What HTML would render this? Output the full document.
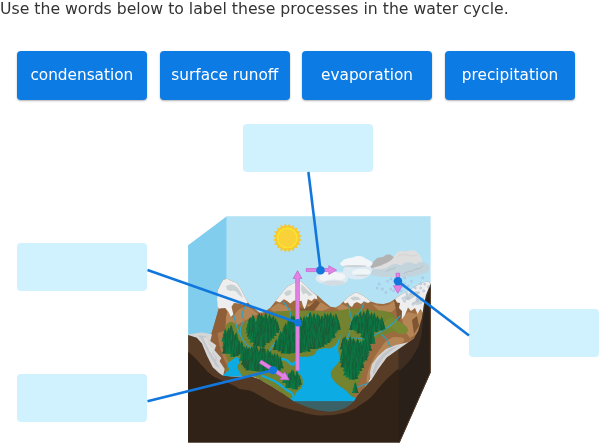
<!DOCTYPE html>
<html><head><meta charset="utf-8">
<style>
html,body{margin:0;padding:0;background:#fff;}
body{width:600px;height:444px;overflow:hidden;position:relative;font-family:"DejaVu Sans","Liberation Sans",sans-serif;}
.q{will-change:transform;position:absolute;left:0px;top:-1px;font-size:15.7px;line-height:19px;color:#333;white-space:nowrap;}
.btn{will-change:transform;position:absolute;top:51.2px;width:130px;height:48.8px;background:#0c7be3;border-radius:4px;color:#fff;font-size:15.3px;line-height:48px;text-align:center;box-shadow:0 1px 2px rgba(0,0,0,.3);}
.drop{position:absolute;width:130px;height:48px;background:#d0f1fe;border-radius:4px;}
svg{position:absolute;left:0;top:0;}
</style></head><body>
<div class="q">Use the words below to label these processes in the water cycle.</div>
<div class="btn" style="left:17.3px;width:129.7px">condensation</div>
<div class="btn" style="left:160px;width:129.7px">surface runoff</div>
<div class="btn" style="left:302px">evaporation</div>
<div class="btn" style="left:445px">precipitation</div>
<div class="drop" style="left:243px;top:124px"></div>
<div class="drop" style="left:17px;top:243px"></div>
<div class="drop" style="left:17px;top:374px"></div>
<div class="drop" style="left:469px;top:308.5px;height:48.4px"></div>
<svg width="600" height="444" viewBox="0 0 600 444">
<path d="M188.1,245.2 L226.8,216.2 L226.8,345.0 L188.1,345.0Z" fill="#80cdee" />
<rect x="226.8" y="216.2" width="203.8" height="125" fill="#b3e2f5"/>
<path d="M301.9,240.3 L298.5,241.6 L300.5,244.7 L296.8,244.9 L297.8,248.5 L294.2,247.5 L294.0,251.2 L290.9,249.2 L289.6,252.6 L287.3,249.8 L285.0,252.6 L283.7,249.2 L280.6,251.2 L280.4,247.5 L276.8,248.5 L277.8,244.9 L274.1,244.7 L276.1,241.6 L272.7,240.3 L275.5,238.0 L272.7,235.7 L276.1,234.4 L274.1,231.3 L277.8,231.1 L276.8,227.5 L280.4,228.5 L280.6,224.8 L283.7,226.8 L285.0,223.4 L287.3,226.2 L289.6,223.4 L290.9,226.8 L294.0,224.8 L294.2,228.5 L297.8,227.5 L296.8,231.1 L300.5,231.3 L298.5,234.4 L301.9,235.7 L299.1,238.0Z" fill="#f7c730" />
<circle cx="287.3" cy="238.0" r="10.5" fill="#fce72a"/>
<circle cx="287.3" cy="238.0" r="9.2" fill="#f8d238"/>
<path d="M367.3,267.8 C365.2,266.4 369.6,266.0 372.0,263.5 C374.5,261.0 373.4,261.3 375.5,259.5 C377.6,257.7 376.8,258.4 379.1,257.6 C381.3,256.8 380.7,257.8 383.1,256.8 C385.6,255.9 384.5,254.8 387.2,254.5 C390.0,254.2 390.4,254.4 392.2,255.9 C393.9,257.4 394.2,256.8 393.1,259.4 C392.0,262.0 392.6,262.0 388.4,264.7 C384.2,267.3 385.4,267.2 379.1,268.2 C372.7,269.1 369.4,269.2 367.3,267.8Z" fill="#b2b2b2" />
<path d="M372.0,269.0 C371.7,267.3 376.6,267.5 382.6,264.7 C388.5,261.8 388.0,262.6 391.9,259.4 C395.9,256.2 393.2,256.7 395.7,254.1 C398.1,251.6 397.2,251.8 400.1,251.0 C403.0,250.2 401.9,251.6 405.4,251.4 C408.9,251.2 408.3,250.0 411.8,250.3 C415.4,250.5 414.6,250.7 417.1,252.4 C419.6,254.1 418.5,253.4 420.0,255.9 C421.5,258.3 422.1,257.8 422.1,260.6 C422.1,263.4 423.1,263.0 420.0,265.2 C416.9,267.5 417.8,266.8 411.8,268.2 C405.9,269.5 408.6,269.1 400.1,269.7 C391.7,270.3 392.2,270.4 383.7,270.2 C375.3,270.0 372.4,270.6 372.0,269.0Z" fill="#dedede" />
<path d="M397.2,257.6 C398.2,256.9 397.2,256.3 400.1,255.3 C403.1,254.3 402.1,254.5 406.0,254.7 C409.9,254.9 408.3,255.7 411.8,255.9 C415.4,256.1 415.0,255.5 416.5,255.3" fill="none" stroke="#cfcfcf" stroke-width="0.8" stroke-linecap="round" />
<path d="M370.3,271.7 C371.1,270.1 371.4,270.2 374.4,269.3 C377.4,268.5 376.7,269.3 380.2,269.0 C383.7,268.6 383.1,269.1 386.1,268.2 C389.1,267.2 387.3,267.1 390.2,265.8 C393.1,264.6 392.3,264.3 395.7,264.1 C399.0,263.9 398.6,265.5 401.3,265.2 C404.0,265.0 402.2,264.0 404.8,263.1 C407.4,262.3 406.9,262.1 410.1,262.3 C413.2,262.5 412.0,263.9 415.4,263.8 C418.7,263.8 417.7,262.0 421.2,262.1 C424.7,262.2 424.6,262.4 427.1,264.1 C429.5,265.7 429.2,265.3 429.4,267.6 C429.6,269.9 430.5,269.7 427.6,271.7 C424.8,273.7 424.8,273.0 420.0,274.4 C415.3,275.8 417.8,275.5 411.8,276.4 C405.9,277.2 407.2,277.0 400.1,277.2 C393.1,277.4 395.1,277.2 388.4,277.0 C381.7,276.7 383.0,277.1 377.9,276.4 C372.8,275.7 373.7,276.0 371.4,274.6 C369.2,273.2 369.4,273.3 370.3,271.7Z" fill="#c3d4dd" />
<path d="M386.1,271.7 C387.4,270.9 387.8,270.2 390.2,269.3 C392.5,268.4 391.3,269.8 393.1,269.0 C394.9,268.2 394.8,267.7 395.7,267.0" fill="none" stroke="#b0b4b6" stroke-width="0.7" stroke-linecap="round" />
<path d="M403.6,273.7 C405.2,273.0 405.6,272.5 408.3,271.7 C411.1,270.8 409.5,271.9 411.8,271.1 C414.2,270.3 412.6,270.3 415.4,269.3 C418.1,268.4 417.7,269.3 420.0,268.2 C422.4,267.0 421.6,266.6 422.4,265.8" fill="none" stroke="#b0b4b6" stroke-width="0.7" stroke-linecap="round" />
<g fill="#dfeaf0"><ellipse cx="333" cy="279" rx="15" ry="6.5"/><ellipse cx="340" cy="277" rx="8.5" ry="5.5"/><ellipse cx="322" cy="278.5" rx="6.5" ry="4.5"/></g>
<g fill="#d2dce2"><ellipse cx="334" cy="283" rx="11" ry="2.6"/></g>
<g fill="#f1f5f8"><ellipse cx="330" cy="275.5" rx="10" ry="4.2"/><ellipse cx="339" cy="276.5" rx="6.5" ry="3.6"/><ellipse cx="324" cy="278" rx="5" ry="3"/></g>
<g fill="#dcebf3"><ellipse cx="357" cy="271.5" rx="14" ry="8"/><ellipse cx="365" cy="270" rx="7" ry="6"/></g>
<g fill="#f2f6f9"><ellipse cx="356" cy="262" rx="14" ry="4.6"/><ellipse cx="358.5" cy="259.2" rx="7" ry="3.2"/><ellipse cx="346.5" cy="263.8" rx="6.5" ry="2.6"/><ellipse cx="366" cy="263.5" rx="6.5" ry="3.6"/></g>
<g fill="#ccd3d7"><ellipse cx="355" cy="266.2" rx="12" ry="1.2"/></g>
<g fill="#f0f5f8"><ellipse cx="362" cy="272" rx="9" ry="3.2"/><ellipse cx="356" cy="272.5" rx="4" ry="2"/></g>
<g fill="#d0d7db"><ellipse cx="362" cy="275.4" rx="7" ry="0.9"/></g>
<path d="M208.0,345.0 L212.6,330.0 L216.0,318.0 L218.5,309.0 L217.0,299.0 L217.7,290.4 L220.8,284.1 L223.3,279.7 L227.1,278.8 L232.8,281.6 L236.6,282.8 L240.4,287.9 L243.5,294.2 L247.9,302.4 L253.0,307.5 L259.3,312.6 L263.0,312.6 L267.0,310.0 L270.0,308.0 L275.7,301.1 L278.9,296.7 L283.9,290.4 L287.7,286.6 L294.0,283.0 L300.9,280.9 L306.6,286.6 L311.7,291.7 L318.0,296.0 L324.3,301.7 L330.6,306.8 L335.6,307.4 L340.0,304.9 L343.3,301.5 L349.0,296.5 L355.8,292.3 L363.3,295.7 L370.8,301.5 L377.0,303.5 L383.3,304.0 L390.0,302.3 L395.0,299.0 L400.8,294.8 L408.3,290.7 L415.0,286.5 L423.3,282.3 L428.3,281.5 L430.6,283.5 L430.6,350.0 L208.0,350.0Z" fill="#9c6b3f" />
<path d="M208.0,334.0 L222.0,334.0 L232.0,350.0 L236.0,372.0 L226.0,378.0 L216.0,372.0 L206.0,350.0Z" fill="#9c6b3f" />
<path d="M225.9,308.3 L228.4,311.8 L231.0,317.0 L235.0,320.0 L236.5,330.0 L233.0,340.0 L223.0,345.0 L225.2,330.0 L225.9,318.1Z" fill="#b58555" />
<path d="M232.0,318.0 L238.0,310.0 L246.0,306.0 L252.0,309.0 L258.0,314.0 L250.0,318.0 L242.0,322.0 L236.0,326.0Z" fill="#b58555" />
<path d="M270.0,309.0 L278.0,303.0 L286.0,306.0 L292.0,310.0 L284.0,312.0 L275.0,313.0Z" fill="#b58555" />
<path d="M306.0,305.0 L314.0,302.0 L322.0,303.0 L330.0,308.0 L322.0,311.0 L312.0,310.0Z" fill="#b58555" />
<path d="M336.0,308.0 L342.0,304.0 L348.0,307.0 L350.0,312.0 L342.0,312.0Z" fill="#b58555" />
<path d="M372.0,304.0 L380.0,306.0 L388.0,305.0 L394.0,301.0 L398.0,306.0 L392.0,312.0 L380.0,312.0Z" fill="#b58555" />
<path d="M402.0,318.0 L408.0,312.0 L416.0,314.0 L422.0,310.0 L424.0,318.0 L419.0,332.0 L410.0,338.0 L404.0,330.0Z" fill="#b58555" />
<path d="M218.9,308.7 L225.9,308.3 L227.1,311.8 L225.9,318.1 L225.2,330.0 L223.0,345.0 L208.0,345.0 L212.6,330.0Z" fill="#8d5e38" />
<path d="M296.0,306.0 L304.0,309.0 L310.0,306.0 L316.0,300.0 L320.0,303.0 L314.0,311.0 L300.0,312.0Z" fill="#7f5532" />
<path d="M394.0,300.0 L400.0,296.0 L404.0,304.0 L402.0,316.0 L398.0,322.0 L396.0,310.0Z" fill="#7f5532" />
<path d="M412.0,320.0 L417.0,316.0 L419.0,326.0 L414.0,334.0Z" fill="#7f5532" />
<path d="M223.3,279.7 L227.1,278.8 L232.8,281.6 L236.6,282.8 L240.4,287.9 L243.5,294.2 L247.9,302.4 L244.1,304.9 L239.0,303.5 L234.0,303.0 L231.5,306.8 L233.4,314.4 L230.9,316.9 L228.4,311.8 L225.2,308.0 L221.0,308.3 L218.9,308.7 L217.7,306.8 L217.0,299.2 L217.7,290.4 L220.8,284.1Z" fill="#eeeeee" />
<path d="M226.0,286.0 L230.0,284.5 L234.0,285.0 L238.0,288.0 L241.0,293.0 L243.0,298.0 L239.0,295.0 L236.0,291.5 L233.0,290.5 L230.0,291.0 L227.0,289.5Z" fill="#c9d1d3" />
<path d="M300.9,280.9 L306.6,286.6 L311.7,291.7 L316.7,295.4 L317.3,299.2 L314.2,298.6 L311.7,301.1 L307.9,299.2 L306.6,304.3 L304.7,309.3 L302.8,305.5 L301.6,301.1 L294.0,300.5 L290.2,303.6 L287.1,301.1 L283.9,299.2 L280.1,302.4 L275.7,301.1 L278.9,296.7 L283.9,290.4 L287.7,286.6 L294.0,283.0Z" fill="#eeeeee" />
<path d="M301.5,284.0 L305.0,287.5 L309.0,291.5 L313.0,295.0 L309.0,296.0 L306.0,293.0 L303.0,294.5 L301.0,290.0Z" fill="#c9d1d3" />
<path d="M284.0,293.0 L288.0,290.0 L292.0,291.0 L290.0,295.0 L286.0,296.0Z" fill="#c9d1d3" />
<path d="M355.8,292.3 L363.3,295.7 L370.8,301.5 L368.0,303.0 L364.0,301.5 L361.0,304.0 L357.0,302.0 L354.0,303.5 L352.0,307.0 L349.5,305.5 L348.0,302.5 L345.0,303.5 L343.3,301.5 L349.0,296.5Z" fill="#eeeeee" />
<path d="M350.0,298.0 L354.0,296.5 L358.0,297.0 L361.0,299.5 L357.0,300.0 L353.0,300.5Z" fill="#c9d1d3" />
<path d="M395.0,299.0 L400.8,294.8 L408.3,290.7 L415.0,286.5 L423.3,282.3 L428.3,281.5 L430.6,283.5 L428.3,295.7 L425.8,307.3 L423.0,313.0 L420.5,309.0 L417.5,314.0 L415.0,308.0 L411.0,311.0 L408.0,307.5 L405.0,315.0 L401.7,319.5 L402.0,311.0 L399.0,308.0 L400.0,303.0 L397.0,302.5Z" fill="#eeeeee" />
<path d="M404.0,296.0 L410.0,294.0 L416.0,291.0 L420.0,292.0 L414.0,297.0 L409.0,300.0 L405.0,300.0Z" fill="#c9d1d3" />
<path d="M412.0,303.0 L418.0,299.0 L424.0,297.0 L422.0,304.0 L417.0,305.0Z" fill="#c9d1d3" />
<path d="M262.0,316.0 C265.2,314.7 264.5,314.2 268.0,313.0 C271.5,311.8 270.5,312.0 275.0,311.5 C279.5,311.0 279.4,311.3 285.0,311.0 C290.6,310.7 290.4,310.6 296.0,310.5 C301.6,310.4 300.7,310.4 306.0,310.5 C311.3,310.6 310.7,310.7 316.0,311.0 C321.3,311.3 320.7,311.5 326.0,311.5 C331.3,311.5 330.9,311.5 336.0,311.0 C341.1,310.5 340.2,310.2 345.0,309.5 C349.8,308.8 348.9,308.6 354.0,308.5 C359.1,308.4 358.7,308.5 364.0,309.0 C369.3,309.5 368.7,310.0 374.0,310.5 C379.3,311.0 379.2,310.1 384.0,311.0 C388.8,311.9 388.3,311.1 392.0,314.0 C395.7,316.9 394.8,316.9 398.0,322.0 C401.2,327.1 403.5,327.7 404.0,333.0 C404.5,338.3 404.3,336.9 400.0,342.0 C395.7,347.1 393.9,346.1 388.0,352.0 C382.1,357.9 382.8,357.1 378.0,364.0 C373.2,370.9 374.3,371.1 370.0,378.0 C365.7,384.9 366.3,383.6 362.0,390.0 C357.7,396.4 372.7,398.8 354.0,402.0 C335.3,405.2 311.7,404.7 292.0,402.0 C272.3,399.3 287.2,397.2 280.0,392.0 C272.8,386.8 272.3,386.5 265.0,382.4 C257.7,378.3 259.2,378.2 252.5,376.5 C245.8,374.8 246.5,377.2 240.0,376.0 C233.5,374.8 232.0,376.3 228.0,372.0 C224.0,367.7 226.6,367.2 225.0,360.0 C223.4,352.8 222.3,352.5 222.0,345.0 C221.7,337.5 221.9,338.1 224.0,332.0 C226.1,325.9 225.7,323.6 230.0,322.0 C234.3,320.4 235.2,326.5 240.0,326.0 C244.8,325.5 243.7,322.1 248.0,320.0 C252.3,317.9 252.3,319.1 256.0,318.0 C259.7,316.9 258.8,317.3 262.0,316.0Z" fill="#73832f" />
<path d="M373.0,341.0 C377.5,337.0 378.3,337.4 385.0,335.0 C391.7,332.6 391.6,331.2 398.0,332.0 C404.4,332.8 408.5,334.5 409.0,338.0 C409.5,341.5 405.1,341.8 400.0,345.0 C394.9,348.2 394.8,346.8 390.0,350.0 C385.2,353.2 386.0,352.2 382.0,357.0 C378.0,361.8 378.2,362.1 375.0,368.0 C371.8,373.9 372.9,373.7 370.0,379.0 C367.1,384.3 367.5,383.2 364.0,388.0 C360.5,392.8 359.7,395.9 357.0,397.0 C354.3,398.1 353.7,395.5 354.0,392.0 C354.3,388.5 355.9,388.8 358.0,384.0 C360.1,379.2 360.1,379.9 362.0,374.0 C363.9,368.1 363.4,368.4 365.0,362.0 C366.6,355.6 365.9,355.6 368.0,350.0 C370.1,344.4 368.5,345.0 373.0,341.0Z" fill="#9c6b3f" />
<path d="M388.0,340.0 C392.8,336.8 393.7,336.7 398.0,337.0 C402.3,337.3 405.1,338.3 404.0,341.0 C402.9,343.7 399.3,343.5 394.0,347.0 C388.7,350.5 388.5,349.5 384.0,354.0 C379.5,358.5 380.5,358.1 377.0,364.0 C373.5,369.9 373.7,370.9 371.0,376.0 C368.3,381.1 367.8,384.1 367.0,383.0 C366.2,381.9 366.4,378.1 368.0,372.0 C369.6,365.9 369.8,366.1 373.0,360.0 C376.2,353.9 376.0,354.3 380.0,349.0 C384.0,343.7 383.2,343.2 388.0,340.0Z" fill="#b58555" />
<path d="M390.0,318.0 C394.3,316.9 395.2,318.8 400.0,322.0 C404.8,325.2 408.0,326.8 408.0,330.0 C408.0,333.2 404.3,334.5 400.0,334.0 C395.7,333.5 396.3,330.1 392.0,328.0 C387.7,325.9 384.5,328.7 384.0,326.0 C383.5,323.3 385.7,319.1 390.0,318.0Z" fill="#7a8a33" />
<path d="M210.0,334.0 L224.0,331.0 L222.5,343.0 L225.0,353.0 L228.5,362.0 L226.5,368.0 L224.0,375.0 L219.0,364.0 L214.0,352.0 L209.0,342.0Z" fill="#8f6039" />
<path d="M217.5,333.0 L224.0,331.0 L222.5,343.0 L225.0,353.0 L228.5,362.0 L227.0,365.0 L223.0,357.0 L219.5,346.0Z" fill="#a9794b" />
<path d="M340.5,336.0 C340.3,337.8 339.2,340.8 338.7,344.3 C338.2,347.8 338.0,347.9 338.3,351.0 C338.6,354.1 340.2,354.8 340.0,357.7 C339.8,360.6 339.2,360.8 337.5,363.5 C335.8,366.2 334.1,366.8 332.5,369.3 C330.9,371.8 330.6,371.8 330.8,374.3 C331.0,376.8 331.6,377.5 333.3,380.0 C335.1,382.5 335.6,382.7 338.3,385.0 C341.0,387.3 342.3,387.7 345.0,390.0 C347.7,392.3 347.9,392.3 350.0,395.0 C352.1,397.7 366.9,400.0 353.8,401.5 C340.7,403.0 307.8,402.8 294.0,401.5 C280.2,400.2 293.8,398.3 294.5,396.0 C295.2,393.7 295.2,394.0 297.0,391.8 C298.8,389.6 300.8,389.7 302.0,386.5 C303.2,383.3 303.1,381.3 302.2,378.0 C301.3,374.7 299.6,375.3 298.0,372.5 C296.4,369.7 297.1,367.6 295.5,366.0 C293.9,364.4 293.0,366.4 291.0,365.5 C289.0,364.6 288.8,363.2 287.0,362.0 C285.2,360.8 285.4,360.7 283.3,360.5 C281.2,360.3 279.2,361.5 278.0,361.0 C276.8,360.5 276.8,359.2 278.0,358.5 C279.2,357.8 281.1,357.8 283.3,358.0 C285.5,358.2 285.7,358.4 287.5,359.5 C289.3,360.6 289.4,362.0 291.0,362.5 C292.6,363.0 293.1,362.7 294.5,361.5 C295.9,360.3 295.7,358.6 297.0,357.5 C298.3,356.4 298.1,357.0 300.0,356.8 C301.9,356.6 301.9,357.2 305.0,356.8 C308.1,356.4 310.4,356.7 313.3,355.2 C316.2,353.7 315.2,351.8 317.5,350.2 C319.8,348.6 320.0,349.1 323.3,348.5 C326.6,347.9 328.5,349.1 331.7,347.7 C334.9,346.3 335.2,345.3 337.0,342.7 C338.8,340.1 338.7,338.1 339.5,336.5 C340.3,334.9 340.7,334.2 340.5,336.0Z" fill="#0cabe4" />
<path d="M227.2,364.5 C227.9,362.3 229.6,361.8 232.0,360.0 C234.4,358.2 235.6,356.4 237.3,357.0 C239.0,357.6 239.3,360.1 239.3,362.5 C239.3,364.9 236.9,364.5 237.3,367.2 C237.7,369.9 240.2,371.9 240.9,374.0 C241.6,376.1 244.2,375.7 240.2,376.2 C236.2,376.7 227.1,377.1 223.8,376.2 C220.5,375.3 224.7,374.1 226.0,372.5 C227.3,370.9 228.9,371.4 229.2,369.5 C229.5,367.6 226.5,366.7 227.2,364.5Z" fill="#0cabe4" />
<path d="M262.0,376.0 C264.7,377.0 264.3,376.3 270.0,379.0 C275.7,381.7 273.4,380.3 279.0,384.0 C284.6,387.7 282.4,386.8 286.7,390.0 C291.0,393.2 289.6,390.5 292.0,393.5 C294.4,396.5 293.3,397.2 294.0,399.0" fill="none" stroke="#0cabe4" stroke-width="2.2" stroke-linecap="round" />
<path d="M245.4,306.2 C244.3,308.9 242.8,309.6 242.2,314.4 C241.6,319.2 244.1,315.5 243.5,320.7 C242.9,325.9 240.6,323.6 240.4,330.0 C240.2,336.4 239.8,334.3 243.0,340.0 C246.2,345.7 245.0,343.0 250.0,347.0 C255.0,351.0 252.0,349.0 258.0,352.0 C264.0,355.0 261.3,353.5 268.0,356.0 C274.7,358.5 274.7,358.3 278.0,359.5" fill="none" stroke="#2aa3c6" stroke-width="1.1" stroke-linecap="round" />
<path d="M233.4,314.4 C234.1,316.9 234.0,316.8 235.5,322.0 C237.0,327.2 235.6,324.7 237.8,330.0 C240.0,335.3 240.6,335.3 242.0,338.0" fill="none" stroke="#2aa3c6" stroke-width="1.1" stroke-linecap="round" />
<path d="M283.0,302.0 C284.7,304.0 285.3,302.7 288.0,308.0 C290.7,313.3 290.3,311.3 291.0,318.0 C291.7,324.7 292.3,322.0 290.0,328.0 C287.7,334.0 288.7,331.3 284.0,336.0 C279.3,340.7 280.7,337.3 276.0,342.0 C271.3,346.7 272.7,345.3 270.0,350.0 C267.3,354.7 268.7,354.0 268.0,356.0" fill="none" stroke="#2aa3c6" stroke-width="1.1" stroke-linecap="round" />
<path d="M309.0,314.0 C307.0,316.3 306.7,317.0 303.0,321.0 C299.3,325.0 302.3,322.7 298.0,326.0 C293.7,329.3 292.7,329.3 290.0,331.0" fill="none" stroke="#2aa3c6" stroke-width="1.1" stroke-linecap="round" />
<path d="M364.0,302.0 C363.0,304.7 363.7,305.3 361.0,310.0 C358.3,314.7 359.0,312.7 356.0,316.0 C353.0,319.3 354.0,315.3 352.0,320.0 C350.0,324.7 351.7,324.0 350.0,330.0 C348.3,336.0 349.3,334.7 347.0,338.0 C344.7,341.3 344.3,339.3 343.0,340.0" fill="none" stroke="#2aa3c6" stroke-width="1.1" stroke-linecap="round" />
<path d="M349.0,305.0 C349.3,307.7 349.0,308.0 350.0,313.0 C351.0,318.0 351.3,317.7 352.0,320.0" fill="none" stroke="#2aa3c6" stroke-width="1.1" stroke-linecap="round" />
<path d="M343.0,340.0 C346.0,339.3 345.7,338.5 352.0,338.0 C358.3,337.5 355.3,339.2 362.0,338.5 C368.7,337.8 365.3,338.5 372.0,336.0 C378.7,333.5 375.3,335.0 382.0,331.0 C388.7,327.0 386.0,329.0 392.0,324.0 C398.0,319.0 397.3,318.7 400.0,316.0" fill="none" stroke="#2aa3c6" stroke-width="1.1" stroke-linecap="round" />
<path d="M382.0,335.0 C383.7,336.7 384.3,336.3 387.0,340.0 C389.7,343.7 387.0,342.7 390.0,346.0 C393.0,349.3 391.3,348.0 396.0,350.0 C400.7,352.0 401.3,351.3 404.0,352.0" fill="none" stroke="#2aa3c6" stroke-width="1.1" stroke-linecap="round" />
<path d="M397.0,352.0 C394.0,354.7 393.7,353.3 388.0,360.0 C382.3,366.7 386.0,364.7 380.0,372.0 C374.0,379.3 376.7,377.3 370.0,382.0 C363.3,386.7 366.0,382.7 360.0,386.0 C354.0,389.3 354.7,390.0 352.0,392.0" fill="none" stroke="#2aa3c6" stroke-width="1.1" stroke-linecap="round" />
<path d="M246.0,352.0 C248.0,351.3 248.0,350.0 252.0,350.0 C256.0,350.0 256.0,351.3 258.0,352.0" fill="none" stroke="#2aa3c6" stroke-width="1.1" stroke-linecap="round" />
<defs><g id="tr"><path d="M0,-10.5 L1.4,-6.8 L0.9,-6.8 L2.4,-3.4 L1.7,-3.4 L3.3,0.3 L-3.3,0.3 L-1.7,-3.4 L-2.4,-3.4 L-0.9,-6.8 L-1.4,-6.8Z" fill="#0b7843"/><path d="M0,-10.5 L1.4,-6.8 L0.9,-6.8 L2.4,-3.4 L1.7,-3.4 L3.3,0.3 L0.3,0.3Z" fill="#175f39"/></g><g id="ts"><path d="M0,-10.5 L1.4,-6.8 L0.9,-6.8 L2.4,-3.4 L1.7,-3.4 L3.3,0.3 L-3.3,0.3 L-1.7,-3.4 L-2.4,-3.4 L-0.9,-6.8 L-1.4,-6.8Z" fill="#0d7040"/><path d="M0,-10.5 L-1.4,-6.8 L-0.9,-6.8 L-2.4,-3.4 L-1.7,-3.4 L-3.3,0.3 L-0.3,0.3Z" fill="#1c5a35"/></g></defs>
<g><use href="#ts" transform="translate(367.8,318.9) scale(1.02)"/><use href="#ts" transform="translate(363.9,321.2) scale(1.00)"/><use href="#ts" transform="translate(374.4,321.7) scale(0.88)"/><use href="#ts" transform="translate(371.6,321.8) scale(0.92)"/><use href="#ts" transform="translate(360.4,322.6) scale(1.10)"/><use href="#ts" transform="translate(367.0,322.8) scale(1.14)"/><use href="#tr" transform="translate(324.8,323.1) scale(0.98)"/><use href="#tr" transform="translate(317.1,323.2) scale(0.94)"/><use href="#ts" transform="translate(310.3,323.5) scale(1.14)"/><use href="#ts" transform="translate(259.3,323.7) scale(1.05)"/><use href="#ts" transform="translate(330.8,323.7) scale(1.09)"/><use href="#tr" transform="translate(313.8,323.8) scale(1.05)"/><use href="#tr" transform="translate(265.6,324.0) scale(1.09)"/><use href="#tr" transform="translate(252.8,324.3) scale(0.95)"/><use href="#tr" transform="translate(333.2,324.3) scale(0.91)"/><use href="#tr" transform="translate(372.9,324.4) scale(0.87)"/><use href="#tr" transform="translate(321.5,324.5) scale(0.88)"/><use href="#tr" transform="translate(357.0,324.6) scale(1.01)"/><use href="#tr" transform="translate(360.2,324.6) scale(1.06)"/><use href="#ts" transform="translate(261.7,324.7) scale(1.05)"/><use href="#ts" transform="translate(292.0,324.8) scale(0.93)"/><use href="#tr" transform="translate(363.6,324.8) scale(0.93)"/><use href="#ts" transform="translate(327.7,324.9) scale(1.12)"/><use href="#tr" transform="translate(306.3,324.9) scale(0.88)"/><use href="#ts" transform="translate(377.5,324.9) scale(0.92)"/><use href="#tr" transform="translate(335.8,325.2) scale(1.14)"/><use href="#tr" transform="translate(318.7,325.3) scale(1.02)"/><use href="#ts" transform="translate(273.4,325.3) scale(0.93)"/><use href="#tr" transform="translate(354.7,325.7) scale(1.05)"/><use href="#tr" transform="translate(269.4,325.7) scale(1.12)"/><use href="#ts" transform="translate(368.9,325.8) scale(0.97)"/><use href="#ts" transform="translate(251.0,325.8) scale(0.86)"/><use href="#tr" transform="translate(313.4,326.0) scale(1.06)"/><use href="#ts" transform="translate(294.0,326.0) scale(0.99)"/><use href="#tr" transform="translate(310.9,326.3) scale(0.98)"/><use href="#ts" transform="translate(324.9,326.4) scale(0.90)"/><use href="#tr" transform="translate(374.8,326.4) scale(0.98)"/><use href="#ts" transform="translate(253.8,326.5) scale(0.98)"/><use href="#ts" transform="translate(266.7,326.5) scale(0.94)"/><use href="#ts" transform="translate(330.2,326.7) scale(1.10)"/><use href="#ts" transform="translate(378.8,326.7) scale(0.87)"/><use href="#tr" transform="translate(257.8,326.7) scale(1.07)"/><use href="#tr" transform="translate(260.4,326.8) scale(1.05)"/><use href="#tr" transform="translate(381.6,326.8) scale(0.97)"/><use href="#tr" transform="translate(364.6,326.9) scale(1.00)"/><use href="#tr" transform="translate(297.0,327.0) scale(0.99)"/><use href="#tr" transform="translate(307.3,327.1) scale(0.96)"/><use href="#ts" transform="translate(304.2,327.1) scale(1.06)"/><use href="#tr" transform="translate(291.5,327.2) scale(1.02)"/><use href="#ts" transform="translate(263.8,327.2) scale(1.02)"/><use href="#tr" transform="translate(333.0,327.3) scale(1.08)"/><use href="#tr" transform="translate(337.3,327.4) scale(0.97)"/><use href="#ts" transform="translate(322.5,327.4) scale(1.12)"/><use href="#tr" transform="translate(371.0,327.4) scale(1.01)"/><use href="#tr" transform="translate(353.3,327.6) scale(1.02)"/><use href="#tr" transform="translate(300.6,327.8) scale(1.10)"/><use href="#ts" transform="translate(275.7,327.9) scale(0.95)"/><use href="#tr" transform="translate(315.1,327.9) scale(0.85)"/><use href="#ts" transform="translate(356.9,327.9) scale(1.08)"/><use href="#tr" transform="translate(269.3,328.0) scale(1.01)"/><use href="#ts" transform="translate(272.0,328.2) scale(1.05)"/><use href="#ts" transform="translate(249.7,328.4) scale(1.03)"/><use href="#tr" transform="translate(325.8,328.5) scale(1.05)"/><use href="#ts" transform="translate(368.4,328.6) scale(0.99)"/><use href="#tr" transform="translate(317.8,328.7) scale(1.00)"/><use href="#tr" transform="translate(382.4,329.0) scale(0.96)"/><use href="#tr" transform="translate(360.8,329.1) scale(1.10)"/><use href="#tr" transform="translate(308.3,329.1) scale(1.15)"/><use href="#tr" transform="translate(296.2,329.2) scale(1.15)"/><use href="#ts" transform="translate(260.4,329.3) scale(0.86)"/><use href="#tr" transform="translate(252.3,329.4) scale(1.02)"/><use href="#ts" transform="translate(373.9,329.4) scale(1.08)"/><use href="#ts" transform="translate(352.3,329.5) scale(0.93)"/><use href="#ts" transform="translate(299.1,329.5) scale(0.96)"/><use href="#tr" transform="translate(337.1,329.5) scale(1.14)"/><use href="#tr" transform="translate(264.5,329.7) scale(0.95)"/><use href="#tr" transform="translate(355.0,329.7) scale(0.88)"/><use href="#ts" transform="translate(333.1,329.7) scale(1.13)"/><use href="#tr" transform="translate(364.7,329.7) scale(0.85)"/><use href="#ts" transform="translate(305.4,329.8) scale(0.92)"/><use href="#ts" transform="translate(329.0,329.9) scale(0.91)"/><use href="#ts" transform="translate(268.1,330.0) scale(0.96)"/><use href="#tr" transform="translate(377.2,330.0) scale(1.06)"/><use href="#ts" transform="translate(291.6,330.0) scale(1.10)"/><use href="#tr" transform="translate(380.1,330.0) scale(1.05)"/><use href="#tr" transform="translate(277.2,330.1) scale(0.86)"/><use href="#ts" transform="translate(320.2,330.1) scale(0.86)"/><use href="#ts" transform="translate(302.7,330.1) scale(0.91)"/><use href="#tr" transform="translate(310.8,330.1) scale(0.86)"/><use href="#ts" transform="translate(316.0,330.3) scale(1.00)"/><use href="#tr" transform="translate(255.9,330.5) scale(0.92)"/><use href="#tr" transform="translate(249.0,330.5) scale(0.93)"/><use href="#tr" transform="translate(272.5,330.6) scale(0.85)"/><use href="#tr" transform="translate(357.7,331.0) scale(1.13)"/><use href="#tr" transform="translate(288.5,331.0) scale(1.14)"/><use href="#tr" transform="translate(324.2,331.2) scale(1.04)"/><use href="#ts" transform="translate(335.3,331.2) scale(0.90)"/><use href="#ts" transform="translate(295.2,331.3) scale(0.92)"/><use href="#tr" transform="translate(371.9,331.4) scale(1.11)"/><use href="#tr" transform="translate(375.0,331.8) scale(1.00)"/><use href="#ts" transform="translate(306.0,331.8) scale(0.99)"/><use href="#tr" transform="translate(251.0,331.9) scale(0.96)"/><use href="#tr" transform="translate(309.5,331.9) scale(0.90)"/><use href="#tr" transform="translate(329.7,332.0) scale(1.12)"/><use href="#tr" transform="translate(321.1,332.0) scale(0.89)"/><use href="#ts" transform="translate(317.4,332.2) scale(0.94)"/><use href="#tr" transform="translate(291.5,332.2) scale(1.02)"/><use href="#tr" transform="translate(257.3,332.2) scale(1.01)"/><use href="#tr" transform="translate(302.2,332.3) scale(1.01)"/><use href="#ts" transform="translate(368.0,332.4) scale(0.95)"/><use href="#tr" transform="translate(276.0,332.5) scale(1.02)"/><use href="#tr" transform="translate(266.4,332.6) scale(0.88)"/><use href="#ts" transform="translate(298.6,332.6) scale(1.02)"/><use href="#tr" transform="translate(270.2,332.8) scale(0.92)"/><use href="#ts" transform="translate(359.9,332.9) scale(1.07)"/><use href="#ts" transform="translate(262.5,333.0) scale(1.14)"/><use href="#ts" transform="translate(363.9,333.1) scale(1.00)"/><use href="#ts" transform="translate(333.9,333.1) scale(0.90)"/><use href="#tr" transform="translate(248.7,333.3) scale(0.89)"/><use href="#tr" transform="translate(326.3,333.4) scale(1.12)"/><use href="#tr" transform="translate(293.7,333.5) scale(0.99)"/><use href="#ts" transform="translate(254.2,333.5) scale(1.04)"/><use href="#tr" transform="translate(312.6,333.6) scale(1.00)"/><use href="#tr" transform="translate(272.6,333.7) scale(0.85)"/><use href="#ts" transform="translate(315.2,334.0) scale(1.14)"/><use href="#ts" transform="translate(371.5,334.1) scale(0.98)"/><use href="#ts" transform="translate(330.3,334.1) scale(1.14)"/><use href="#tr" transform="translate(251.8,334.2) scale(1.07)"/><use href="#tr" transform="translate(318.0,334.2) scale(1.06)"/><use href="#ts" transform="translate(285.8,334.3) scale(1.10)"/><use href="#tr" transform="translate(258.1,334.4) scale(1.10)"/><use href="#tr" transform="translate(309.1,334.4) scale(0.95)"/><use href="#tr" transform="translate(324.0,334.5) scale(1.07)"/><use href="#tr" transform="translate(321.2,334.5) scale(0.94)"/><use href="#tr" transform="translate(267.0,334.5) scale(1.01)"/><use href="#ts" transform="translate(260.9,334.6) scale(0.87)"/><use href="#ts" transform="translate(304.4,334.7) scale(1.07)"/><use href="#ts" transform="translate(264.3,334.7) scale(0.89)"/><use href="#tr" transform="translate(270.1,334.8) scale(1.03)"/><use href="#tr" transform="translate(298.1,335.0) scale(1.07)"/><use href="#tr" transform="translate(289.5,335.3) scale(1.07)"/><use href="#tr" transform="translate(292.2,335.6) scale(1.01)"/><use href="#ts" transform="translate(274.0,335.8) scale(0.87)"/><use href="#ts" transform="translate(366.4,335.9) scale(0.87)"/><use href="#tr" transform="translate(295.1,336.0) scale(1.10)"/><use href="#ts" transform="translate(250.3,336.1) scale(1.04)"/><use href="#ts" transform="translate(330.0,336.2) scale(1.15)"/><use href="#ts" transform="translate(302.2,336.2) scale(1.01)"/><use href="#ts" transform="translate(262.6,336.2) scale(1.12)"/><use href="#ts" transform="translate(253.1,336.2) scale(0.93)"/><use href="#tr" transform="translate(259.2,336.3) scale(0.92)"/><use href="#ts" transform="translate(370.5,336.4) scale(0.95)"/><use href="#tr" transform="translate(363.6,336.6) scale(1.04)"/><use href="#tr" transform="translate(312.7,336.6) scale(0.98)"/><use href="#ts" transform="translate(317.2,336.7) scale(1.13)"/><use href="#ts" transform="translate(231.2,336.8) scale(1.14)"/><use href="#tr" transform="translate(319.9,336.8) scale(1.12)"/><use href="#ts" transform="translate(308.2,336.8) scale(0.86)"/><use href="#ts" transform="translate(265.7,336.9) scale(1.14)"/><use href="#tr" transform="translate(256.7,336.9) scale(0.99)"/><use href="#tr" transform="translate(283.9,337.1) scale(1.03)"/><use href="#tr" transform="translate(332.4,337.1) scale(1.00)"/><use href="#tr" transform="translate(322.9,337.2) scale(0.86)"/><use href="#ts" transform="translate(268.6,337.3) scale(1.13)"/><use href="#tr" transform="translate(288.1,337.9) scale(0.89)"/><use href="#ts" transform="translate(297.0,338.0) scale(0.95)"/><use href="#ts" transform="translate(327.0,338.0) scale(1.06)"/><use href="#ts" transform="translate(365.4,338.0) scale(0.96)"/><use href="#tr" transform="translate(292.4,338.1) scale(0.94)"/><use href="#ts" transform="translate(305.4,338.2) scale(1.09)"/><use href="#ts" transform="translate(271.9,338.2) scale(0.90)"/><use href="#ts" transform="translate(330.1,338.3) scale(1.12)"/><use href="#tr" transform="translate(314.3,338.3) scale(1.01)"/><use href="#ts" transform="translate(300.5,338.3) scale(1.04)"/><use href="#ts" transform="translate(310.9,338.3) scale(0.89)"/><use href="#ts" transform="translate(368.5,338.5) scale(1.11)"/><use href="#ts" transform="translate(254.4,338.5) scale(1.07)"/><use href="#ts" transform="translate(228.7,338.7) scale(1.04)"/><use href="#tr" transform="translate(371.9,338.8) scale(0.86)"/><use href="#tr" transform="translate(250.6,339.0) scale(0.91)"/><use href="#tr" transform="translate(225.2,339.1) scale(1.02)"/><use href="#ts" transform="translate(317.5,339.1) scale(1.07)"/><use href="#ts" transform="translate(232.6,339.2) scale(0.94)"/><use href="#tr" transform="translate(266.5,339.2) scale(0.99)"/><use href="#ts" transform="translate(259.0,339.2) scale(0.88)"/><use href="#ts" transform="translate(324.6,339.6) scale(0.91)"/><use href="#ts" transform="translate(263.6,339.6) scale(0.87)"/><use href="#tr" transform="translate(298.5,339.6) scale(1.06)"/><use href="#ts" transform="translate(308.4,339.6) scale(0.99)"/><use href="#tr" transform="translate(283.6,339.7) scale(1.00)"/><use href="#ts" transform="translate(286.9,339.7) scale(1.12)"/><use href="#tr" transform="translate(319.8,340.1) scale(0.97)"/><use href="#ts" transform="translate(302.8,340.1) scale(1.04)"/><use href="#ts" transform="translate(295.5,340.1) scale(0.90)"/><use href="#ts" transform="translate(268.8,340.4) scale(1.06)"/><use href="#ts" transform="translate(305.8,340.4) scale(0.92)"/><use href="#tr" transform="translate(255.2,340.4) scale(0.92)"/><use href="#tr" transform="translate(369.5,340.5) scale(1.02)"/><use href="#tr" transform="translate(366.6,340.5) scale(0.90)"/><use href="#ts" transform="translate(261.5,340.8) scale(1.02)"/><use href="#tr" transform="translate(311.0,340.9) scale(1.03)"/><use href="#ts" transform="translate(372.0,340.9) scale(0.99)"/><use href="#ts" transform="translate(328.7,340.9) scale(1.03)"/><use href="#tr" transform="translate(322.0,341.2) scale(1.01)"/><use href="#tr" transform="translate(232.1,341.2) scale(1.10)"/><use href="#tr" transform="translate(314.9,341.3) scale(0.87)"/><use href="#tr" transform="translate(288.7,341.3) scale(0.86)"/><use href="#tr" transform="translate(227.5,341.4) scale(0.87)"/><use href="#tr" transform="translate(264.3,341.6) scale(0.86)"/><use href="#tr" transform="translate(224.3,341.6) scale(0.86)"/><use href="#tr" transform="translate(300.8,341.8) scale(1.10)"/><use href="#tr" transform="translate(297.2,342.1) scale(1.02)"/><use href="#tr" transform="translate(280.6,342.1) scale(1.07)"/><use href="#tr" transform="translate(318.7,342.2) scale(0.95)"/><use href="#ts" transform="translate(259.0,342.2) scale(1.04)"/><use href="#tr" transform="translate(252.9,342.2) scale(1.09)"/><use href="#tr" transform="translate(308.9,342.3) scale(1.12)"/><use href="#ts" transform="translate(230.0,342.4) scale(0.91)"/><use href="#tr" transform="translate(266.9,342.8) scale(0.99)"/><use href="#tr" transform="translate(327.4,342.8) scale(0.87)"/><use href="#tr" transform="translate(255.6,342.8) scale(0.86)"/><use href="#tr" transform="translate(261.5,342.9) scale(0.88)"/><use href="#tr" transform="translate(285.1,343.1) scale(1.03)"/><use href="#ts" transform="translate(372.0,343.3) scale(1.11)"/><use href="#tr" transform="translate(287.8,343.4) scale(1.03)"/><use href="#tr" transform="translate(312.3,343.5) scale(1.00)"/><use href="#ts" transform="translate(304.6,343.5) scale(1.02)"/><use href="#tr" transform="translate(282.5,343.7) scale(1.00)"/><use href="#tr" transform="translate(292.1,343.8) scale(1.11)"/><use href="#tr" transform="translate(316.3,343.8) scale(1.08)"/><use href="#tr" transform="translate(368.2,343.8) scale(1.06)"/><use href="#ts" transform="translate(226.3,343.8) scale(0.94)"/><use href="#ts" transform="translate(236.3,343.9) scale(1.11)"/><use href="#tr" transform="translate(320.6,344.0) scale(1.08)"/><use href="#ts" transform="translate(324.9,344.2) scale(0.89)"/><use href="#ts" transform="translate(307.5,344.2) scale(1.08)"/><use href="#tr" transform="translate(279.4,344.5) scale(1.01)"/><use href="#tr" transform="translate(263.0,344.7) scale(0.97)"/><use href="#tr" transform="translate(231.9,344.8) scale(1.13)"/><use href="#tr" transform="translate(295.0,344.8) scale(0.97)"/><use href="#ts" transform="translate(290.1,345.3) scale(1.14)"/><use href="#ts" transform="translate(256.6,345.5) scale(1.12)"/><use href="#ts" transform="translate(287.3,345.5) scale(0.88)"/><use href="#tr" transform="translate(299.0,345.5) scale(0.92)"/><use href="#ts" transform="translate(259.5,345.6) scale(0.91)"/><use href="#tr" transform="translate(304.8,345.8) scale(1.06)"/><use href="#tr" transform="translate(311.7,345.8) scale(0.97)"/><use href="#tr" transform="translate(226.8,346.0) scale(0.96)"/><use href="#ts" transform="translate(284.0,346.0) scale(0.87)"/><use href="#tr" transform="translate(314.7,346.1) scale(0.96)"/><use href="#ts" transform="translate(350.5,346.1) scale(0.94)"/><use href="#ts" transform="translate(301.6,346.2) scale(0.86)"/><use href="#tr" transform="translate(236.7,346.5) scale(0.90)"/><use href="#tr" transform="translate(353.3,346.5) scale(0.86)"/><use href="#tr" transform="translate(321.5,346.5) scale(0.92)"/><use href="#tr" transform="translate(262.0,346.6) scale(0.95)"/><use href="#ts" transform="translate(345.3,346.7) scale(1.02)"/><use href="#tr" transform="translate(292.4,346.8) scale(1.08)"/><use href="#ts" transform="translate(233.3,346.9) scale(1.09)"/><use href="#ts" transform="translate(295.4,347.1) scale(0.92)"/><use href="#tr" transform="translate(357.4,347.3) scale(0.86)"/><use href="#tr" transform="translate(317.9,347.4) scale(1.07)"/><use href="#ts" transform="translate(286.2,347.6) scale(0.88)"/><use href="#tr" transform="translate(278.9,347.9) scale(0.88)"/><use href="#tr" transform="translate(225.0,348.0) scale(0.92)"/><use href="#tr" transform="translate(349.8,348.4) scale(1.07)"/><use href="#ts" transform="translate(306.5,348.4) scale(0.86)"/><use href="#tr" transform="translate(299.6,348.5) scale(0.97)"/><use href="#tr" transform="translate(229.4,348.6) scale(1.12)"/><use href="#tr" transform="translate(365.2,348.6) scale(1.05)"/><use href="#tr" transform="translate(353.1,348.7) scale(1.00)"/><use href="#ts" transform="translate(315.2,348.7) scale(1.08)"/><use href="#tr" transform="translate(236.8,348.7) scale(1.03)"/><use href="#tr" transform="translate(309.7,348.8) scale(0.94)"/><use href="#ts" transform="translate(343.4,348.8) scale(1.10)"/><use href="#ts" transform="translate(281.6,349.1) scale(0.87)"/><use href="#tr" transform="translate(288.8,349.4) scale(1.03)"/><use href="#tr" transform="translate(292.8,349.4) scale(0.96)"/><use href="#tr" transform="translate(345.8,349.5) scale(1.06)"/><use href="#ts" transform="translate(276.2,349.6) scale(1.01)"/><use href="#ts" transform="translate(232.6,349.9) scale(0.95)"/><use href="#tr" transform="translate(362.9,349.9) scale(1.02)"/><use href="#tr" transform="translate(225.6,350.0) scale(0.89)"/><use href="#tr" transform="translate(302.3,350.0) scale(0.98)"/><use href="#ts" transform="translate(239.3,350.0) scale(0.92)"/><use href="#tr" transform="translate(295.7,350.1) scale(0.90)"/><use href="#ts" transform="translate(357.9,350.2) scale(1.10)"/><use href="#tr" transform="translate(368.5,350.5) scale(1.09)"/><use href="#ts" transform="translate(354.8,350.6) scale(1.00)"/><use href="#ts" transform="translate(286.0,350.7) scale(0.87)"/><use href="#ts" transform="translate(280.6,351.0) scale(0.91)"/><use href="#tr" transform="translate(360.4,351.2) scale(0.99)"/><use href="#ts" transform="translate(228.2,351.3) scale(0.87)"/><use href="#tr" transform="translate(352.1,351.3) scale(1.02)"/><use href="#tr" transform="translate(307.5,351.3) scale(0.98)"/><use href="#tr" transform="translate(288.5,351.4) scale(1.14)"/><use href="#tr" transform="translate(344.7,351.4) scale(0.94)"/><use href="#tr" transform="translate(347.9,351.7) scale(1.14)"/><use href="#tr" transform="translate(233.9,351.7) scale(0.95)"/><use href="#tr" transform="translate(237.9,351.8) scale(1.12)"/><use href="#ts" transform="translate(302.0,352.0) scale(0.95)"/><use href="#tr" transform="translate(241.5,352.2) scale(1.10)"/><use href="#tr" transform="translate(356.7,352.2) scale(0.91)"/><use href="#tr" transform="translate(294.0,352.2) scale(1.11)"/><use href="#tr" transform="translate(298.5,352.6) scale(1.05)"/><use href="#ts" transform="translate(291.0,352.8) scale(1.15)"/><use href="#ts" transform="translate(284.5,352.8) scale(1.11)"/><use href="#tr" transform="translate(365.7,353.0) scale(1.09)"/><use href="#tr" transform="translate(287.0,353.1) scale(1.01)"/><use href="#ts" transform="translate(225.9,353.2) scale(1.15)"/><use href="#tr" transform="translate(352.7,353.3) scale(0.92)"/><use href="#tr" transform="translate(254.7,353.3) scale(0.86)"/><use href="#ts" transform="translate(359.5,353.3) scale(1.03)"/><use href="#ts" transform="translate(349.8,353.6) scale(0.99)"/><use href="#tr" transform="translate(230.5,353.6) scale(1.04)"/><use href="#ts" transform="translate(363.2,353.8) scale(0.92)"/><use href="#tr" transform="translate(355.2,353.9) scale(1.05)"/><use href="#tr" transform="translate(237.3,353.9) scale(0.91)"/><use href="#ts" transform="translate(240.0,353.9) scale(1.02)"/><use href="#tr" transform="translate(346.4,354.2) scale(1.11)"/><use href="#tr" transform="translate(357.8,354.9) scale(1.05)"/><use href="#ts" transform="translate(252.1,355.0) scale(0.87)"/><use href="#tr" transform="translate(256.0,355.1) scale(1.10)"/><use href="#ts" transform="translate(365.9,355.4) scale(1.00)"/><use href="#ts" transform="translate(349.2,355.6) scale(0.86)"/><use href="#tr" transform="translate(235.7,355.6) scale(0.93)"/><use href="#tr" transform="translate(260.7,356.0) scale(0.88)"/><use href="#ts" transform="translate(351.9,356.2) scale(1.11)"/><use href="#ts" transform="translate(360.3,356.3) scale(0.96)"/><use href="#tr" transform="translate(232.8,356.5) scale(0.88)"/><use href="#tr" transform="translate(254.0,356.6) scale(1.09)"/><use href="#tr" transform="translate(249.5,356.9) scale(0.96)"/><use href="#tr" transform="translate(356.4,357.0) scale(1.06)"/><use href="#tr" transform="translate(346.7,357.1) scale(1.04)"/><use href="#tr" transform="translate(246.4,357.2) scale(1.10)"/><use href="#tr" transform="translate(343.1,357.3) scale(0.99)"/><use href="#ts" transform="translate(263.3,357.4) scale(1.08)"/><use href="#tr" transform="translate(364.9,357.4) scale(1.00)"/><use href="#tr" transform="translate(353.5,357.8) scale(0.90)"/><use href="#ts" transform="translate(257.3,358.0) scale(0.88)"/><use href="#ts" transform="translate(252.0,358.0) scale(0.99)"/><use href="#ts" transform="translate(362.6,358.4) scale(1.07)"/><use href="#tr" transform="translate(244.3,358.4) scale(1.15)"/><use href="#ts" transform="translate(357.7,358.8) scale(1.08)"/><use href="#ts" transform="translate(261.0,359.0) scale(1.13)"/><use href="#ts" transform="translate(264.7,359.2) scale(1.09)"/><use href="#ts" transform="translate(248.8,359.2) scale(1.12)"/><use href="#tr" transform="translate(267.7,359.4) scale(1.00)"/><use href="#ts" transform="translate(350.8,359.4) scale(0.96)"/><use href="#tr" transform="translate(355.2,359.7) scale(1.08)"/><use href="#ts" transform="translate(343.3,359.8) scale(0.99)"/><use href="#ts" transform="translate(256.0,359.8) scale(1.07)"/><use href="#ts" transform="translate(347.9,359.9) scale(0.85)"/><use href="#tr" transform="translate(364.2,359.9) scale(1.02)"/><use href="#tr" transform="translate(251.6,360.1) scale(1.11)"/><use href="#ts" transform="translate(270.4,360.3) scale(0.94)"/><use href="#tr" transform="translate(242.5,360.4) scale(1.06)"/><use href="#ts" transform="translate(258.2,361.0) scale(0.94)"/><use href="#tr" transform="translate(358.8,361.0) scale(0.93)"/><use href="#tr" transform="translate(264.2,361.3) scale(0.99)"/><use href="#ts" transform="translate(248.4,361.6) scale(0.92)"/><use href="#tr" transform="translate(361.8,361.6) scale(0.91)"/><use href="#tr" transform="translate(260.8,361.6) scale(0.97)"/><use href="#tr" transform="translate(352.5,361.7) scale(1.01)"/><use href="#tr" transform="translate(268.5,361.8) scale(1.12)"/><use href="#tr" transform="translate(255.2,361.8) scale(0.93)"/><use href="#tr" transform="translate(251.6,362.3) scale(0.90)"/><use href="#ts" transform="translate(245.7,362.3) scale(1.14)"/><use href="#ts" transform="translate(272.3,362.7) scale(0.86)"/><use href="#tr" transform="translate(343.1,362.7) scale(1.08)"/><use href="#tr" transform="translate(357.1,363.1) scale(0.86)"/><use href="#tr" transform="translate(257.4,363.1) scale(1.03)"/><use href="#ts" transform="translate(350.2,363.4) scale(0.89)"/><use href="#tr" transform="translate(249.2,363.6) scale(0.88)"/><use href="#ts" transform="translate(264.7,363.9) scale(0.92)"/><use href="#tr" transform="translate(347.1,363.9) scale(0.85)"/><use href="#tr" transform="translate(267.6,364.1) scale(1.12)"/><use href="#ts" transform="translate(359.5,364.2) scale(0.98)"/><use href="#tr" transform="translate(277.2,364.3) scale(1.06)"/><use href="#ts" transform="translate(244.1,364.6) scale(0.91)"/><use href="#tr" transform="translate(353.8,364.6) scale(1.09)"/><use href="#ts" transform="translate(253.3,364.7) scale(1.13)"/><use href="#tr" transform="translate(272.0,364.8) scale(0.88)"/><use href="#ts" transform="translate(274.7,364.8) scale(1.15)"/><use href="#tr" transform="translate(343.5,364.9) scale(0.88)"/><use href="#tr" transform="translate(261.4,365.2) scale(1.15)"/><use href="#tr" transform="translate(258.5,365.4) scale(1.05)"/><use href="#ts" transform="translate(361.3,365.7) scale(0.90)"/><use href="#tr" transform="translate(250.8,365.7) scale(0.94)"/><use href="#tr" transform="translate(269.6,365.8) scale(0.91)"/><use href="#tr" transform="translate(349.4,365.9) scale(0.93)"/><use href="#tr" transform="translate(357.9,366.0) scale(0.89)"/><use href="#ts" transform="translate(246.0,366.1) scale(1.01)"/><use href="#tr" transform="translate(255.0,366.2) scale(1.07)"/><use href="#ts" transform="translate(354.5,366.7) scale(0.92)"/><use href="#ts" transform="translate(343.7,366.9) scale(0.96)"/><use href="#tr" transform="translate(277.5,366.9) scale(1.03)"/><use href="#ts" transform="translate(346.9,367.2) scale(1.10)"/><use href="#tr" transform="translate(352.0,367.3) scale(0.97)"/><use href="#tr" transform="translate(273.7,367.4) scale(0.98)"/><use href="#tr" transform="translate(263.7,367.7) scale(1.10)"/><use href="#tr" transform="translate(360.8,367.8) scale(1.06)"/><use href="#ts" transform="translate(247.5,367.9) scale(1.08)"/><use href="#tr" transform="translate(280.0,368.0) scale(1.14)"/><use href="#tr" transform="translate(260.9,368.2) scale(1.15)"/><use href="#ts" transform="translate(250.9,368.2) scale(1.01)"/><use href="#tr" transform="translate(270.6,368.4) scale(0.85)"/><use href="#ts" transform="translate(256.4,368.7) scale(1.14)"/><use href="#tr" transform="translate(267.1,368.8) scale(1.08)"/><use href="#tr" transform="translate(275.7,368.8) scale(0.89)"/><use href="#ts" transform="translate(349.7,369.6) scale(1.10)"/><use href="#ts" transform="translate(356.8,369.7) scale(0.87)"/><use href="#tr" transform="translate(352.6,369.9) scale(1.12)"/><use href="#tr" transform="translate(277.9,369.9) scale(0.97)"/><use href="#ts" transform="translate(249.2,370.0) scale(1.14)"/><use href="#ts" transform="translate(264.8,370.1) scale(1.02)"/><use href="#ts" transform="translate(274.2,370.5) scale(0.87)"/><use href="#tr" transform="translate(359.3,370.6) scale(0.92)"/><use href="#ts" transform="translate(271.6,370.6) scale(0.95)"/><use href="#tr" transform="translate(253.6,370.6) scale(0.98)"/><use href="#tr" transform="translate(346.3,370.8) scale(1.09)"/><use href="#tr" transform="translate(267.3,370.9) scale(1.09)"/><use href="#ts" transform="translate(259.2,371.0) scale(1.08)"/><use href="#tr" transform="translate(262.3,371.5) scale(1.02)"/><use href="#tr" transform="translate(352.1,372.0) scale(1.15)"/><use href="#tr" transform="translate(354.8,372.1) scale(1.11)"/><use href="#ts" transform="translate(348.6,372.3) scale(0.89)"/><use href="#ts" transform="translate(357.1,373.5) scale(0.98)"/><use href="#ts" transform="translate(353.7,374.2) scale(1.11)"/><use href="#tr" transform="translate(346.5,375.3) scale(1.05)"/><use href="#ts" transform="translate(355.9,375.4) scale(0.95)"/><use href="#tr" transform="translate(351.5,375.5) scale(1.09)"/><use href="#tr" transform="translate(348.9,377.1) scale(1.02)"/><use href="#tr" transform="translate(354.7,378.6) scale(1.10)"/><use href="#ts" transform="translate(292.1,379.0) scale(0.90)"/><use href="#tr" transform="translate(351.8,379.1) scale(1.05)"/><use href="#tr" transform="translate(296.8,380.2) scale(0.90)"/><use href="#tr" transform="translate(290.0,381.3) scale(0.92)"/><use href="#tr" transform="translate(293.0,381.5) scale(1.13)"/><use href="#tr" transform="translate(285.6,382.6) scale(1.09)"/><use href="#ts" transform="translate(296.3,383.3) scale(0.86)"/><use href="#tr" transform="translate(288.5,383.4) scale(0.99)"/><use href="#ts" transform="translate(291.8,383.6) scale(1.13)"/><use href="#tr" transform="translate(298.7,384.4) scale(0.97)"/><use href="#tr" transform="translate(293.4,385.4) scale(0.97)"/><use href="#ts" transform="translate(289.0,385.8) scale(1.02)"/><use href="#ts" transform="translate(296.9,386.4) scale(1.09)"/><use href="#tr" transform="translate(288.5,387.7) scale(1.05)"/><use href="#tr" transform="translate(292.6,387.8) scale(0.93)"/><use href="#tr" transform="translate(294.8,389.0) scale(1.01)"/><use href="#tr" transform="translate(355.2,392.8) scale(1.04)"/></g>
<path d="M188.1,334.3 L201.9,332.6 L212.0,334.3 L210.3,341.0 L216.2,345.3 L214.5,350.3 L221.3,357.9 L219.6,361.3 L224.7,368.9 L223.0,376.0 L218.8,373.1 L212.8,367.2 L206.9,355.4 L201.9,343.6 L196.8,337.7 L188.1,335.0Z" fill="#d6d6d6" />
<path d="M198.0,335.5 L206.0,336.0 L208.0,342.0 L212.0,347.0 L211.0,351.0 L217.0,358.0 L216.0,362.0 L220.0,368.0 L216.0,366.0 L211.0,358.0 L206.0,348.0 L202.0,340.0Z" fill="#c2c5c9" />
<path d="M203.0,337.0 L207.0,338.0 L209.0,344.0 L213.0,349.0 L212.0,353.0 L217.0,360.0 L214.0,358.0 L209.0,350.0 L205.0,342.0Z" fill="#dcdcdc" />
<path d="M408.0,342.3 L413.8,338.7 L407.5,343.0 L400.0,348.0 L395.0,351.5 L386.7,357.5 L378.3,369.0 L373.0,379.0 L370.5,381.0 L370.0,372.0 L372.0,364.0 L378.0,356.0 L386.0,349.0 L396.0,345.0Z" fill="#d6d6d6" />
<path d="M400.0,345.0 L392.0,350.5 L384.0,357.0 L378.0,366.0 L374.0,375.0 L372.5,372.0 L376.0,362.0 L383.0,354.0 L391.0,348.0Z" fill="#c2c5c9" />
<path d="M188.1,335.0 L196.8,337.7 L201.9,343.6 L206.9,355.4 L212.8,367.2 L218.8,373.1 L223.0,375.8 L232.3,376.8 L240.7,376.4 L252.5,376.7 L259.3,379.0 L265.0,382.4 L272.0,386.5 L280.0,391.7 L287.0,396.5 L294.0,401.5 L353.8,401.5 L356.7,396.7 L362.0,390.0 L368.3,383.3 L371.7,379.5 L378.3,369.0 L386.7,357.5 L395.0,351.5 L398.5,349.5 L399.3,349.0 L399.3,442.5 L188.1,442.5Z" fill="#553b25" />
<path d="M398.5,349.5 L407.5,343.0 L413.8,338.7 L418.3,330.6 L421.9,318.0 L423.7,305.4 L426.0,295.0 L430.6,283.5 L430.6,372.4 L399.6,442.5 L398.5,442.5Z" fill="#3e2d20" />
<path d="M188.1,352.0 C190.0,353.6 191.4,354.3 195.1,357.9 C198.8,361.5 197.8,361.2 201.9,365.5 C206.0,369.8 205.8,370.3 210.3,373.9 C214.8,377.5 214.3,376.7 218.8,379.0 C223.3,381.3 222.7,380.4 227.2,382.4 C231.7,384.4 232.2,384.7 235.6,386.5 C239.0,388.3 236.2,387.9 240.0,389.0 C243.8,390.1 244.7,389.0 250.0,390.8 C255.3,392.6 253.8,392.5 260.0,395.8 C266.2,399.1 266.2,400.0 273.3,403.3 C280.4,406.6 279.6,406.1 286.7,408.3 C293.8,410.5 292.9,410.0 300.0,411.7 C307.1,413.4 306.2,413.7 313.3,414.7 C320.4,415.7 319.6,415.6 326.7,415.3 C333.8,415.0 333.3,415.1 340.0,413.7 C346.7,412.3 346.2,412.6 352.0,410.0 C357.8,407.4 356.6,407.5 361.7,404.0 C366.8,400.5 365.6,402.2 371.0,397.0 C376.4,391.8 375.8,391.0 381.8,384.5 C387.8,378.0 388.9,376.9 393.5,372.8 C398.1,368.7 397.5,370.0 399.0,369.0 L399,442.5 L188.1,442.5Z" fill="#302216"/>
<path d="M399.0,369.0 L399.4,371.0 L405.7,364.9 L412.0,357.7 L418.3,346.8 L421.5,336.0 L423.0,320.0 L425.0,305.0 L428.0,294.0 L430.6,285.0 L430.6,372.4 L399.6,442.5 L398.5,442.5Z" fill="#29201a" />
<path d="M430.3,290 L430.3,372.4 L399.4,442.5" stroke="#6a4a32" stroke-width="0.7" fill="none"/>
<path d="M294,401.5 L353.8,401.5 C349,406.5 342,411 330,411.7 C316,411.5 303,405.5 293.3,401.5Z" fill="#3a6165"/>
<g fill="#cfe0ee" fill-opacity="0.7" stroke="#8faad0" stroke-width="0.5"><circle cx="390.9" cy="279.0" r="1" /><circle cx="404.6" cy="278.0" r="1" /><circle cx="422.7" cy="277.8" r="1" /><circle cx="379.2" cy="284.0" r="1" /><circle cx="387.5" cy="281.3" r="1" /><circle cx="394.1" cy="281.2" r="1" /><circle cx="399.9" cy="281.2" r="1" /><circle cx="404.2" cy="283.8" r="1" /><circle cx="411.5" cy="281.5" r="1" /><circle cx="420.7" cy="283.8" r="1" /><circle cx="424.7" cy="284.2" r="1" /><circle cx="377.1" cy="288.1" r="1" /><circle cx="382.4" cy="289.1" r="1" /><circle cx="390.7" cy="289.2" r="1" /><circle cx="397.9" cy="286.8" r="1" /><circle cx="402.5" cy="286.3" r="1" /><circle cx="408.2" cy="285.9" r="1" /><circle cx="415.3" cy="287.9" r="1" /><circle cx="420.7" cy="288.1" r="1" /><circle cx="428.4" cy="286.8" r="1" /><circle cx="385.8" cy="292.4" r="1" /><circle cx="393.7" cy="290.9" r="1" /><circle cx="401.2" cy="290.8" r="1" /><circle cx="406.9" cy="293.7" r="1" /><circle cx="410.8" cy="293.5" r="1" /><circle cx="418.5" cy="292.8" r="1" /><circle cx="423.7" cy="290.9" r="1" /><circle cx="403.1" cy="298.5" r="1" /><circle cx="408.1" cy="298.4" r="1" /><circle cx="417.1" cy="298.8" r="1" /><circle cx="420.8" cy="299.1" r="1" /><circle cx="404.5" cy="301.2" r="1" /><circle cx="413.2" cy="304.3" r="1" /><circle cx="417.8" cy="300.9" r="1" /></g>
<path d="M299.4,370.5 L299.4,278.4 L301.9,278.4 L297.6,270.6 L293.2,278.4 L295.7,278.4 L295.7,370.5Z" fill="#e283e3" stroke="#c760cf" stroke-width="0.7" stroke-linejoin="miter"/>
<path d="M306.2,271.6 L328.8,271.6 L328.8,274.4 L336.6,270.1 L328.8,265.8 L328.8,268.6 L306.2,268.6Z" fill="#e283e3" stroke="#c760cf" stroke-width="0.7" stroke-linejoin="miter"/>
<path d="M396.1,273.2 L396.1,285.7 L393.4,285.7 L397.8,293.3 L402.2,285.7 L399.6,285.7 L399.6,273.2Z" fill="#e283e3" stroke="#c760cf" stroke-width="0.7" stroke-linejoin="miter"/>
<path d="M259.3,363.1 L281.5,377.1 L280.0,379.5 L289.2,379.9 L284.9,371.7 L283.4,374.1 L261.3,360.1Z" fill="#e283e3" stroke="#c760cf" stroke-width="0.7" stroke-linejoin="miter"/>
<path d="M308.4,172 L320.5,270.3" stroke="#1277dd" stroke-width="2.6" fill="none"/><circle cx="320.5" cy="270.3" r="4.3" fill="#1277dd"/>
<path d="M147.5,270 L298,322.8" stroke="#1277dd" stroke-width="2.6" fill="none"/><circle cx="298" cy="322.8" r="3.8" fill="#1277dd"/>
<path d="M147.5,401.2 L273,370.2" stroke="#1277dd" stroke-width="2.6" fill="none"/><circle cx="273" cy="370.2" r="4" fill="#1277dd"/>
<path d="M469,335.5 L398,281.2" stroke="#1277dd" stroke-width="2.6" fill="none"/><circle cx="398" cy="281.2" r="4.2" fill="#1277dd"/>
</svg>
</body></html>
